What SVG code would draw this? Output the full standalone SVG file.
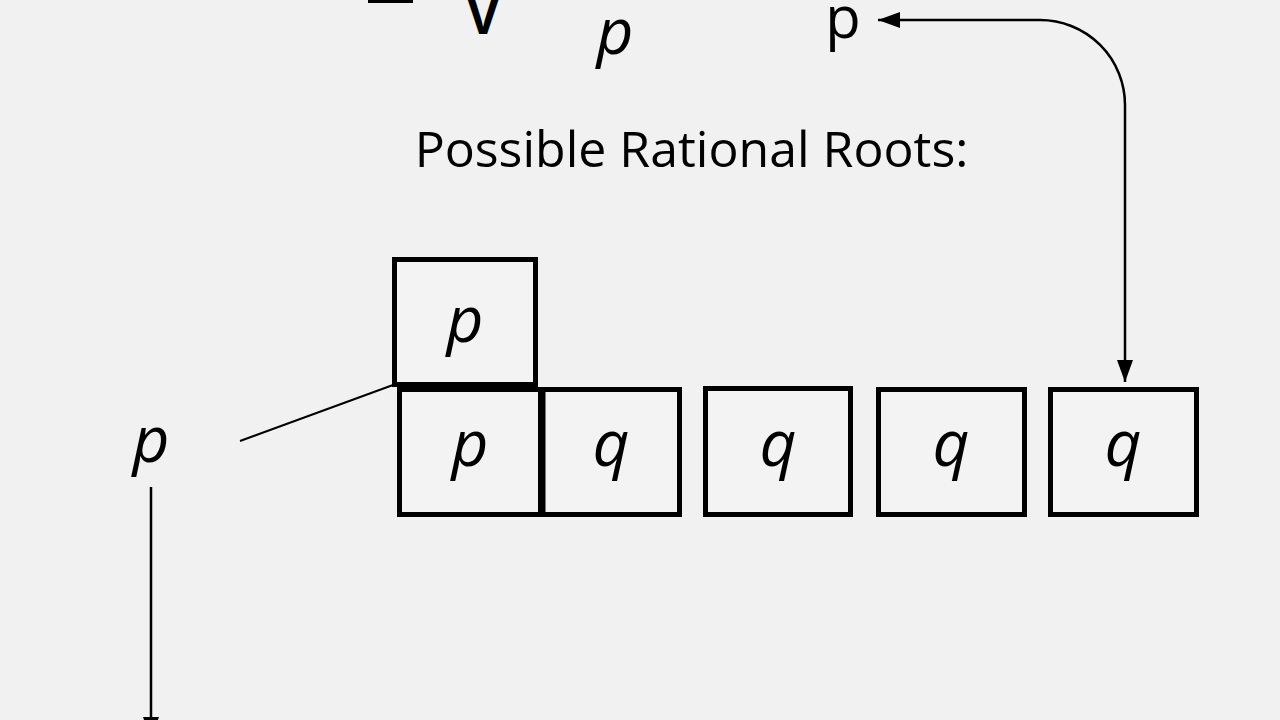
<svg xmlns="http://www.w3.org/2000/svg" width="1280" height="720" viewBox="0 0 1280 720">
<style>
.box{fill:#f3f3f3;stroke:#000;stroke-width:5}
.lbl{font-family:"Open Sans","Noto Sans",sans-serif;font-style:italic;font-size:64px;fill:#000;text-anchor:middle}
.conn{fill:none;stroke:#000;stroke-width:2.5}
</style>
<defs>
<marker id="arr" viewBox="0 0 11 8" refX="11" refY="4" markerWidth="8.8" markerHeight="6.4" orient="auto-start-reverse" markerUnits="strokeWidth">
<path d="M0,0 L11,4 L0,8 z" fill="#000"/>
</marker>
</defs>
<rect width="1280" height="720" fill="#f1f1f1"/>
<g id="formula-top">
<rect x="368" y="-2" width="45" height="5" fill="#000"/>
<text x="483" y="34" font-family="Open Sans, sans-serif" font-weight="bold" font-size="48" text-anchor="middle">V</text>
<text x="615" y="54" class="lbl" font-size="66">p</text>
</g>
<g id="label-p-top">
<text x="843" y="38" font-family="Open Sans, sans-serif" font-size="58" text-anchor="middle">p</text>
</g>
<g id="title">
<text x="691.5" y="167" font-family="Open Sans, sans-serif" font-size="50" text-anchor="middle">Possible Rational Roots:</text>
</g>
<g id="label-p-left">
<text x="151" y="462" class="lbl" font-size="58">p</text>
</g>
<g id="node-p-top">
<rect class="box" x="394.5" y="259.5" width="141" height="125"/>
<text x="465" y="342" class="lbl">p</text>
</g>
<g id="node-p">
<rect class="box" x="399.5" y="389.5" width="141" height="125"/>
<text x="470" y="466" class="lbl">p</text>
</g>
<g id="node-q1">
<rect class="box" x="543" y="389.5" width="136.5" height="125"/>
<text x="611" y="466" class="lbl">q</text>
</g>
<g id="node-q2">
<rect class="box" x="705.5" y="388.5" width="145" height="126"/>
<text x="778" y="466" class="lbl">q</text>
</g>
<g id="node-q3">
<rect class="box" x="878.5" y="389.5" width="146" height="125"/>
<text x="951" y="466" class="lbl">q</text>
</g>
<g id="node-q4">
<rect class="box" x="1050.5" y="389.5" width="146" height="125"/>
<text x="1123" y="466" class="lbl">q</text>
</g>
<g id="connectors">
<path class="conn" d="M1125,382 L1125,105 A85,85 0 0 0 1040,20 L878,20" marker-start="url(#arr)" marker-end="url(#arr)"/>
<path d="M240,441 L393,385" fill="none" stroke="#000" stroke-width="2"/>
<path class="conn" d="M151,487 L151,739" marker-end="url(#arr)"/>
</g>
</svg>
